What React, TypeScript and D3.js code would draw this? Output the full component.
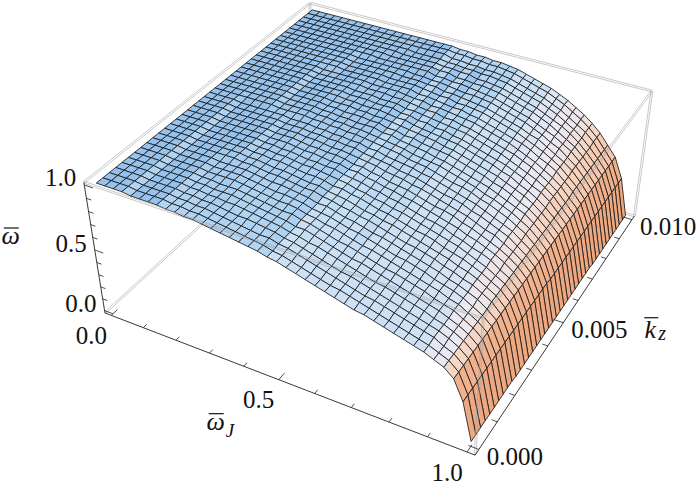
import React from 'react';
import * as d3 from 'd3';

// grid of the surface
const omegaJValues = [0, 0.025, 0.05, 0.075, 0.1, 0.125, 0.15, 0.175, 0.2, 0.225, 0.25, 0.275, 0.3, 0.325, 0.35, 0.375, 0.4, 0.425, 0.45, 0.475, 0.5, 0.525, 0.55, 0.575, 0.6, 0.625, 0.65, 0.675, 0.7, 0.725, 0.75, 0.775, 0.8, 0.825, 0.85, 0.875, 0.9, 0.925, 0.95, 0.975, 1];
const kzValues = [0, 0.00025, 0.0005, 0.00075, 0.001, 0.00125, 0.0015, 0.00175, 0.002, 0.00225, 0.0025, 0.00275, 0.003, 0.00325, 0.0035, 0.00375, 0.004, 0.00425, 0.0045, 0.00475, 0.005, 0.00525, 0.0055, 0.00575, 0.006, 0.00625, 0.0065, 0.00675, 0.007, 0.00725, 0.0075, 0.00775, 0.008, 0.00825, 0.0085, 0.00875, 0.009, 0.00925, 0.0095, 0.00975, 0.01];

// omega-bar x 100; one row per omegaJ value, running along kz
const omegaBarPct: number[][] = [
  [100,100,100,100,100,100,100,100,100,100,100,100,100,100,100,100,100,100,100,100,100,100,100,100,100,100,100,100,100,100,100,100,100,100,100,100,100,100,100,100,100],
  [100,100,100,100,100,100,100,100,100,100,100,100,100,100,100,100,100,100,100,100,100,100,100,100,100,100,100,100,100,100,100,100,100,100,100,100,100,100,100,100,100],
  [100,100,100,100,100,100,100,100,100,100,100,100,100,100,100,100,100,100,100,100,100,100,100,100,100,100,100,100,100,100,100,100,100,100,100,100,100,100,100,100,100],
  [100,100,100,100,100,100,100,100,100,100,100,100,100,100,100,100,100,100,100,100,100,100,100,100,100,100,100,100,100,100,100,100,100,100,100,100,100,100,100,100,100],
  [99,99,99,99,99,99,99,99,99,99,99,99,99,99,99,99,99,99,99,99,100,100,100,100,100,100,100,100,100,100,100,100,100,100,100,100,100,100,100,100,100],
  [99,99,99,99,99,99,99,99,99,99,99,99,99,99,99,99,99,99,99,99,100,100,100,100,100,100,100,100,100,100,100,100,100,100,100,100,100,100,100,100,100],
  [99,99,99,99,99,99,99,99,99,99,99,99,99,99,99,99,99,99,99,99,100,100,100,100,100,100,100,100,100,100,100,100,100,100,100,100,100,100,100,100,100],
  [99,99,99,99,99,99,99,99,99,99,99,99,99,99,99,99,99,99,99,99,100,100,100,100,100,100,100,100,100,100,100,100,100,100,100,100,100,100,100,100,100],
  [98,98,98,98,98,98,98,98,98,98,99,99,99,99,99,99,99,99,99,99,99,99,99,99,99,99,99,99,99,99,100,100,100,100,100,100,100,100,100,100,100],
  [98,98,98,98,98,98,98,98,98,98,99,99,99,99,99,99,99,99,99,99,99,99,99,99,99,99,99,99,99,99,100,100,100,100,100,100,100,100,100,100,100],
  [97,97,97,97,97,97,97,98,98,98,98,98,98,98,98,98,98,98,98,98,99,99,99,99,99,99,99,99,99,99,99,99,99,99,100,100,100,100,100,100,100],
  [97,97,97,97,97,97,97,98,98,98,98,98,98,98,98,98,98,98,98,98,99,99,99,99,99,99,99,99,99,99,99,99,99,99,100,100,100,100,100,100,100],
  [96,96,96,96,96,97,97,97,97,97,97,97,97,97,97,98,98,98,98,98,98,98,98,98,98,99,99,99,99,99,99,99,99,99,99,100,100,100,100,100,100],
  [95,95,95,95,96,96,96,96,96,96,96,96,97,97,97,97,97,97,97,97,98,98,98,98,98,98,98,98,99,99,99,99,99,99,99,99,100,100,100,100,100],
  [94,94,94,94,95,95,95,95,95,95,96,96,96,96,96,96,96,97,97,97,97,97,97,97,98,98,98,98,98,98,99,99,99,99,99,99,99,100,100,100,100],
  [93,93,93,94,94,94,94,94,94,95,95,95,95,95,95,96,96,96,96,96,97,97,97,97,97,97,98,98,98,98,98,98,99,99,99,99,99,99,100,100,100],
  [92,92,92,93,93,93,93,93,94,94,94,94,94,95,95,95,95,95,96,96,96,96,96,97,97,97,97,97,98,98,98,98,98,99,99,99,99,99,100,100,100],
  [91,91,91,92,92,92,92,93,93,93,93,93,94,94,94,94,95,95,95,95,96,96,96,96,96,97,97,97,97,98,98,98,98,98,99,99,99,99,100,100,100],
  [90,90,91,91,91,91,92,92,92,92,93,93,93,93,94,94,94,94,95,95,95,95,96,96,96,96,97,97,97,97,98,98,98,98,99,99,99,99,100,100,100],
  [88,88,89,89,89,89,90,90,90,90,91,91,91,92,92,92,92,93,93,93,94,94,94,94,95,95,95,95,96,96,96,97,97,97,97,98,98,98,98,99,99],
  [87,87,88,88,88,89,89,89,89,90,90,90,91,91,91,92,92,92,92,93,93,93,94,94,94,95,95,95,95,96,96,96,97,97,97,98,98,98,98,99,99],
  [85,85,86,86,86,87,87,87,88,88,88,89,89,89,90,90,90,91,91,91,92,92,92,92,93,93,93,94,94,94,95,95,95,96,96,96,97,97,97,98,98],
  [83,83,84,84,85,85,85,86,86,86,87,87,88,88,88,89,89,89,90,90,91,91,91,92,92,92,93,93,94,94,94,95,95,95,96,96,97,97,97,98,98],
  [81,81,82,82,83,83,83,84,84,85,85,85,86,86,87,87,87,88,88,89,89,89,90,90,91,91,91,92,92,93,93,93,94,94,95,95,95,96,96,97,97],
  [79,79,80,80,81,81,82,82,83,83,84,84,84,85,85,86,86,87,87,88,88,88,89,89,90,90,91,91,92,92,93,93,93,94,94,95,95,96,96,97,97],
  [77,77,78,78,79,79,80,80,81,81,82,82,83,83,84,84,85,85,86,86,87,87,87,88,88,89,89,90,90,91,91,92,92,93,93,94,94,95,95,96,96],
  [75,76,76,77,77,78,78,79,79,80,80,81,81,82,82,83,83,84,84,85,85,86,86,87,87,88,88,89,89,90,90,91,91,92,92,93,93,94,94,95,95],
  [73,74,74,75,75,76,76,77,77,78,78,79,79,80,80,81,81,82,82,83,83,84,84,85,85,86,86,87,87,88,88,89,89,90,90,91,91,92,92,93,93],
  [71,72,72,73,73,74,74,75,75,76,76,77,77,78,78,79,79,80,80,81,81,82,82,83,83,84,84,85,85,86,86,87,87,88,88,89,89,90,90,91,91],
  [70,70,71,71,72,72,73,73,74,74,75,75,76,76,77,77,78,78,79,79,80,80,80,81,81,82,82,83,83,84,84,85,85,86,86,87,87,88,88,89,89],
  [68,68,69,69,70,70,71,71,72,72,73,73,74,74,75,75,76,76,77,77,78,78,78,79,79,80,80,81,81,82,82,83,83,84,84,85,85,86,86,87,87],
  [66,66,67,67,68,68,69,69,70,70,71,71,71,72,72,73,73,74,74,75,75,75,76,76,77,77,78,78,79,79,80,80,80,81,81,82,82,83,83,84,84],
  [64,64,65,65,66,66,67,67,67,68,68,69,69,70,70,70,71,71,72,72,73,73,73,74,74,75,75,75,76,76,77,77,78,78,78,79,79,80,80,81,81],
  [62,62,63,63,64,64,64,65,65,65,66,66,67,67,67,68,68,68,69,69,70,70,70,71,71,71,72,72,73,73,73,74,74,74,75,75,76,76,76,77,77],
  [60,60,61,61,61,62,62,62,63,63,63,64,64,64,65,65,65,66,66,66,67,67,67,67,68,68,68,69,69,69,70,70,70,71,71,71,72,72,72,73,73],
  [58,58,59,59,59,59,60,60,60,60,61,61,61,61,62,62,62,62,63,63,63,63,64,64,64,64,65,65,65,65,66,66,66,66,67,67,67,67,68,68,68],
  [55,55,55,56,56,56,56,56,56,57,57,57,57,57,57,58,58,58,58,58,59,59,59,59,59,59,60,60,60,60,60,60,61,61,61,61,61,61,62,62,62],
  [52,52,52,52,52,52,52,52,52,52,53,53,53,53,53,53,53,53,53,53,53,53,53,53,53,53,53,53,53,53,54,54,54,54,54,54,54,54,54,54,54],
  [46,46,46,46,46,46,46,46,46,46,46,46,46,46,46,46,46,46,46,46,46,46,46,46,46,46,46,46,46,46,46,46,46,46,46,46,46,46,46,46,46],
  [31,31,31,31,31,31,31,31,31,31,31,31,31,31,31,31,31,31,31,31,30,30,30,30,30,30,30,30,30,30,30,30,30,30,30,30,30,30,30,30,30],
  [2,2,2,2,2,2,2,2,2,2,1,1,1,1,1,1,1,1,1,1,1,1,1,1,1,1,1,1,1,1,0,0,0,0,0,0,0,0,0,0,0],
];

const omegaTicks = [0, 0.5, 1];
const omegaMinor = [0.1, 0.2, 0.3, 0.4, 0.6, 0.7, 0.8, 0.9];
const omegaJTicks = [0, 0.5, 1];
const omegaJMinor = [0.1, 0.2, 0.3, 0.4, 0.6, 0.7, 0.8, 0.9];
const kzTicks = [0, 0.005, 0.01];
const kzMinor = [0.001, 0.002, 0.003, 0.004, 0.006, 0.007, 0.008, 0.009];

const W = 700;
const H = 487;
const FONT = "'Liberation Serif', 'Times New Roman', Times, 'DejaVu Serif', serif";

// camera (default Mathematica view point, box ratios 1:1:0.4)
type V3 = [number, number, number];
const VIEW: V3 = [1.3, -2.4, 2];
const dot = (a: number[], b: number[]) => a[0] * b[0] + a[1] * b[1] + a[2] * b[2];
const norm = (v: number[]): V3 => {
  const l = Math.hypot(v[0], v[1], v[2]);
  return [v[0] / l, v[1] / l, v[2] / l];
};
const fwd = norm([-VIEW[0], -VIEW[1], -VIEW[2]]);
const right = norm([fwd[1], -fwd[0], 0]);
const up: V3 = [
  right[1] * fwd[2] - right[2] * fwd[1],
  right[2] * fwd[0] - right[0] * fwd[2],
  right[0] * fwd[1] - right[1] * fwd[0],
];
const CX = 382, CY = 200.5, KX = 1365, KY = 1339;

const rel = (p: V3): V3 => [p[0] - VIEW[0], p[1] - VIEW[1], p[2] - VIEW[2]];
const depth = (p: V3) => dot(rel(p), fwd);
const project = (p: V3): [number, number] => {
  const r = rel(p);
  const d = dot(r, fwd);
  return [CX + (KX * dot(r, right)) / d, CY - (KY * dot(r, up)) / d];
};

// data -> box coordinates (2% padding like the original)
const xS = d3.scaleLinear().domain([-0.02, 1.02]).range([-0.5, 0.5]);
const yS = d3.scaleLinear().domain([-0.0002, 0.0102]).range([-0.5, 0.5]);
const zS = d3.scaleLinear().domain([-0.02, 1.02]).range([-0.2, 0.2]);
const pt = (wj: number, k: number, w: number): V3 => [xS(wj), yS(k), zS(w)];

// colour by how far the face normal leans towards +omegaJ
const shadeScale = d3.scaleLinear<string>()
  .domain([0, 0.25, 0.5, 0.7, 0.85, 1])
  .range(['#96c3ee', '#c3def6', '#ebeaf3', '#f6d6c4', '#f4bd9b', '#eca47c'])
  .interpolate(d3.interpolateRgb)
  .clamp(true);

const poly = d3.line<[number, number]>().curve(d3.curveLinearClosed);

const fmt1 = d3.format('.1f');
const fmt3 = d3.format('.3f');

const App: React.FC = () => {
  const xd = xS.domain(), yd = yS.domain(), zd = zS.domain();
  const corner = (a: number, b: number, c: number): V3 => pt(xd[a], yd[b], zd[c]);
  const nJ = omegaJValues.length, nK = kzValues.length;
  const val = (a: number, b: number) => omegaBarPct[a][Math.min(b, omegaBarPct[a].length - 1)] / 100;

  // slope along omegaJ of each cell, in box units
  const slope: number[][] = [];
  for (let j = 0; j < nJ - 1; j++) {
    const row: number[] = [];
    const dx = xS(omegaJValues[j + 1]) - xS(omegaJValues[j]);
    for (let i = 0; i < nK - 1; i++) {
      const dz = (zS(val(j + 1, i)) - zS(val(j, i)) + zS(val(j + 1, i + 1)) - zS(val(j, i + 1))) / 2;
      row.push(-dz / dx);
    }
    slope.push(row);
  }
  // smooth shading: mean along kz, median of neighbouring omegaJ columns
  const rowMean = slope.map(row => row.map((_, i) => d3.mean(row.slice(Math.max(0, i - 3), Math.min(row.length, i + 4))) || 0));
  const smooth = rowMean.map((row, j) => row.map((v, i) => {
    const a = rowMean[Math.max(0, j - 1)][i], b = rowMean[Math.min(rowMean.length - 1, j + 1)][i];
    return d3.median([a, v, b]) || v;
  }));

  const cells: { d: string; fill: string; depth: number }[] = [];
  for (let j = 0; j < nJ - 1; j++) {
    for (let i = 0; i < nK - 1; i++) {
      const idx: [number, number][] = [[j, i], [j + 1, i], [j + 1, i + 1], [j, i + 1]];
      const q = idx.map(([a, b]) => pt(omegaJValues[a], kzValues[b], val(a, b)));
      const g = Math.max(0, smooth[j][i]);
      const nx = g / Math.sqrt(1 + g * g);
      const cen: V3 = [
        (q[0][0] + q[1][0] + q[2][0] + q[3][0]) / 4,
        (q[0][1] + q[1][1] + q[2][1] + q[3][1]) / 4,
        (q[0][2] + q[1][2] + q[2][2] + q[3][2]) / 4,
      ];
      cells.push({ d: poly(q.map(project)) || '', fill: shadeScale(nx), depth: depth(cen) });
    }
  }
  cells.sort((a, b) => b.depth - a.depth);

  const doubleLine = (a: V3, b: V3, key: string) => {
    const [x1, y1] = project(a);
    const [x2, y2] = project(b);
    const L = Math.hypot(x2 - x1, y2 - y1);
    const nx = (-(y2 - y1) / L) * 0.9, ny = ((x2 - x1) / L) * 0.9;
    return (
      <g key={key} stroke="#a3a3a3" strokeWidth={0.6}>
        <line x1={x1 + nx} y1={y1 + ny} x2={x2 + nx} y2={y2 + ny} />
        <line x1={x1 - nx} y1={y1 - ny} x2={x2 - nx} y2={y2 - ny} />
      </g>
    );
  };
  const line3 = (a: V3, b: V3, key: string, stroke: string, w: number) => {
    const [x1, y1] = project(a);
    const [x2, y2] = project(b);
    return <line key={key} x1={x1} y1={y1} x2={x2} y2={y2} stroke={stroke} strokeWidth={w} />;
  };

  const backEdges: [V3, V3][] = [
    [corner(0, 1, 0), corner(0, 0, 0)],
    [corner(0, 1, 0), corner(1, 1, 0)],
    [corner(0, 1, 0), corner(0, 1, 1)],
    [corner(0, 1, 1), corner(1, 1, 1)],
    [corner(1, 1, 1), corner(1, 1, 0)],
  ];
  const frontEdges: [V3, V3][] = [
    [corner(0, 0, 1), corner(0, 1, 1)],
    [corner(1, 0, 1), corner(0, 0, 1)],
    [corner(1, 0, 1), corner(1, 1, 1)],
    [corner(1, 0, 1), corner(1, 0, 0)],
  ];

  const x0 = -0.5, y0 = -0.5, z0 = -0.2, x1 = 0.5;
  const MAJ = 0.025, MIN = 0.014;

  // ticks
  const ticks: JSX.Element[] = [];
  omegaTicks.concat(omegaMinor).forEach((v, i) => {
    const len = i < omegaTicks.length ? MAJ : MIN;
    ticks.push(line3([x0, y0, zS(v)], [x0 + len, y0, zS(v)], 'tw' + i, '#222', 0.8));
  });
  omegaJTicks.concat(omegaJMinor).forEach((v, i) => {
    const len = i < omegaJTicks.length ? MAJ : MIN;
    ticks.push(line3([xS(v), y0, z0], [xS(v), y0 + len, z0], 'tj' + i, '#222', 0.8));
  });
  kzTicks.concat(kzMinor).forEach((v, i) => {
    const len = i < kzTicks.length ? MAJ : MIN;
    ticks.push(line3([x1, yS(v), z0], [x1 - len, yS(v), z0], 'tk' + i, '#222', 0.8));
  });

  const txt = { style: { fontFamily: FONT, fontSize: '25px' }, fill: '#111' };

  const omegaLabels = omegaTicks.map((v, i) => {
    const [px, py] = project([x0, y0, zS(v)]);
    return <text key={'lw' + i} x={px - 8} y={py - 7} textAnchor="end" dominantBaseline="central" {...txt}>{fmt1(v)}</text>;
  });
  const omegaJLabels = omegaJTicks.map((v, i) => {
    const [px, py] = project([xS(v), y0, z0]);
    return <text key={'lj' + i} x={px - 20} y={py + 20} textAnchor="middle" dominantBaseline="central" {...txt}>{fmt1(v)}</text>;
  });
  const kzLabels = kzTicks.map((v, i) => {
    const [px, py] = project([x1, yS(v), z0]);
    return <text key={'lk' + i} x={px + 8} y={py + 7} textAnchor="start" dominantBaseline="central" {...txt}>{fmt3(v)}</text>;
  });

  // axis titles
  const [wmx, wmy] = project([x0, y0, zS(0.5)]);
  const [jmx, jmy] = project([xS(0.5), y0, z0]);
  const [kmx, kmy] = project([x1, yS(0.005), z0]);
  const wT = { x: wmx - 84, y: wmy - 12 };
  const jT = { x: jmx - 63, y: jmy + 45 };
  const kT = { x: kmx + 87, y: kmy + 6 };
  const it = (size: number) => ({ style: { fontFamily: FONT, fontStyle: 'italic', fontSize: size + 'px' }, fill: '#111' });

  return (
    <svg width={W} height={H} style={{ position: 'absolute', left: 0, top: 0 }}>
      <rect width={W} height={H} fill="#fff" />
      {backEdges.map((e, i) => doubleLine(e[0], e[1], 'b' + i))}
      <g stroke="#1a1a1a" strokeWidth={0.85} strokeLinejoin="round">
        {cells.map((c, i) => <path key={i} d={c.d} fill={c.fill} />)}
      </g>
      {frontEdges.map((e, i) => doubleLine(e[0], e[1], 'f' + i))}
      {line3(corner(0, 0, 0), corner(0, 0, 1), 'axw', '#222', 0.9)}
      {line3(corner(0, 0, 0), corner(1, 0, 0), 'axj', '#222', 0.9)}
      {line3(corner(1, 0, 0), corner(1, 1, 0), 'axk', '#222', 0.9)}
      {ticks}
      {omegaLabels}
      {omegaJLabels}
      {kzLabels}
      <g>
        <text x={wT.x} y={wT.y + 5.5} textAnchor="middle" {...it(26)}>ω</text>
        <line x1={wT.x - 7} x2={wT.x + 8} y1={wT.y - 10} y2={wT.y - 10} stroke="#111" strokeWidth={1.2} />
      </g>
      <g>
        <text x={jT.x} y={jT.y + 5.5} textAnchor="middle" {...it(26)}>ω</text>
        <line x1={jT.x - 7} x2={jT.x + 8} y1={jT.y - 11} y2={jT.y - 11} stroke="#111" strokeWidth={1.2} />
        <text x={jT.x + 10} y={jT.y + 12} {...it(19)}>J</text>
      </g>
      <g>
        <text x={kT.x} y={kT.y + 9} textAnchor="middle" {...it(26)}>k</text>
        <line x1={kT.x - 6} x2={kT.x + 8} y1={kT.y - 11} y2={kT.y - 11} stroke="#111" strokeWidth={1.2} />
        <text x={kT.x + 8} y={kT.y + 11} {...it(20)}>z</text>
      </g>
    </svg>
  );
};

export default App;
